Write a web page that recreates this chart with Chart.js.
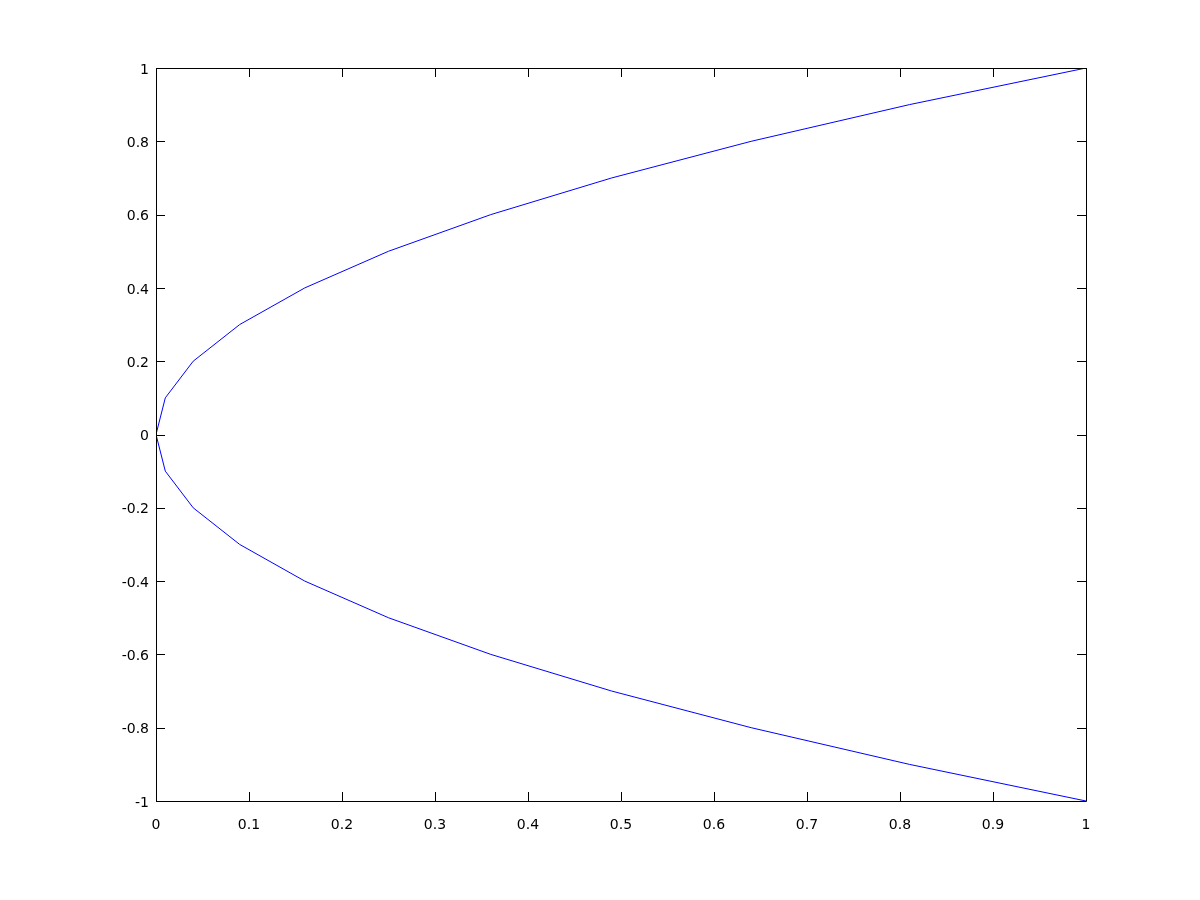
<!DOCTYPE html>
<html lang="en">
<head>
    <meta charset="UTF-8">
    <title>x = y^2</title>
    <script src="https://cdn.jsdelivr.net/npm/chart.js@4.4.1/dist/chart.umd.min.js"></script>
    <style>
        body {
            margin: 0;
            background-color: #ffffff;
        }
        canvas {
            display: block;
        }
    </style>
</head>
<body>
    <canvas id="plot" width="1200" height="900"></canvas>

    <script>
        // Curve samples
        const yValues = [-1, -0.9, -0.8, -0.7, -0.6, -0.5, -0.4, -0.3, -0.2, -0.1, 0,
                         0.1, 0.2, 0.3, 0.4, 0.5, 0.6, 0.7, 0.8, 0.9, 1];
        const xValues = [1, 0.81, 0.64, 0.49, 0.36, 0.25, 0.16, 0.09, 0.04, 0.01, 0,
                         0.01, 0.04, 0.09, 0.16, 0.25, 0.36, 0.49, 0.64, 0.81, 1];

        const xTicks = [0, 0.1, 0.2, 0.3, 0.4, 0.5, 0.6, 0.7, 0.8, 0.9, 1];
        const yTicks = [-1, -0.8, -0.6, -0.4, -0.2, 0, 0.2, 0.4, 0.6, 0.8, 1];

        const fmt = v => String(Math.round(v * 10) / 10);

        // Inward tick marks on all four sides plus the box
        const boxTicks = {
            id: 'boxTicks',
            afterDraw(chart) {
                const ctx = chart.ctx;
                const a = chart.chartArea;
                const len = 9;
                ctx.save();
                ctx.strokeStyle = '#000000';
                ctx.lineWidth = 1;
                ctx.beginPath();
                ctx.rect(Math.round(a.left) + 0.5, Math.round(a.top) + 0.5,
                         Math.round(a.right - a.left), Math.round(a.bottom - a.top));
                xTicks.forEach(v => {
                    const px = Math.round(chart.scales.x.getPixelForValue(v)) + 0.5;
                    ctx.moveTo(px, a.bottom);
                    ctx.lineTo(px, a.bottom - len);
                    ctx.moveTo(px, a.top);
                    ctx.lineTo(px, a.top + len);
                });
                yTicks.forEach(v => {
                    const py = Math.round(chart.scales.y.getPixelForValue(v)) + 0.5;
                    ctx.moveTo(a.left, py);
                    ctx.lineTo(a.left + len, py);
                    ctx.moveTo(a.right, py);
                    ctx.lineTo(a.right - len, py);
                });
                ctx.stroke();
                ctx.restore();
            }
        };

        new Chart(document.getElementById('plot'), {
            type: 'scatter',
            data: {
                datasets: [{
                    data: xValues.map((x, i) => ({ x: x, y: yValues[i] })),
                    showLine: true,
                    borderColor: '#0000ff',
                    borderWidth: 1,
                    pointRadius: 0,
                    tension: 0
                }]
            },
            options: {
                responsive: false,
                animation: false,
                layout: { padding: { left: 0, top: 68, right: 114, bottom: 0 } },
                plugins: {
                    legend: { display: false },
                    tooltip: { enabled: false }
                },
                scales: {
                    x: {
                        type: 'linear',
                        min: 0,
                        max: 1,
                        afterFit: s => { s.height = 99; },
                        afterBuildTicks: s => { s.ticks = xTicks.map(v => ({ value: v })); },
                        grid: { display: false, drawTicks: false },
                        border: { display: false },
                        ticks: {
                            color: '#000000',
                            padding: 16,
                            maxRotation: 0,
                            autoSkip: false,
                            font: { family: 'DejaVu Sans', size: 14 },
                            callback: v => fmt(v)
                        }
                    },
                    y: {
                        type: 'linear',
                        min: -1,
                        max: 1,
                        afterFit: s => { s.width = 156; },
                        afterBuildTicks: s => { s.ticks = yTicks.map(v => ({ value: v })); },
                        grid: { display: false, drawTicks: false },
                        border: { display: false },
                        ticks: {
                            color: '#000000',
                            padding: 7,
                            labelOffset: 2,
                            autoSkip: false,
                            font: { family: 'DejaVu Sans', size: 14 },
                            callback: v => fmt(v)
                        }
                    }
                }
            },
            plugins: [boxTicks]
        });
    </script>
</body>
</html>
